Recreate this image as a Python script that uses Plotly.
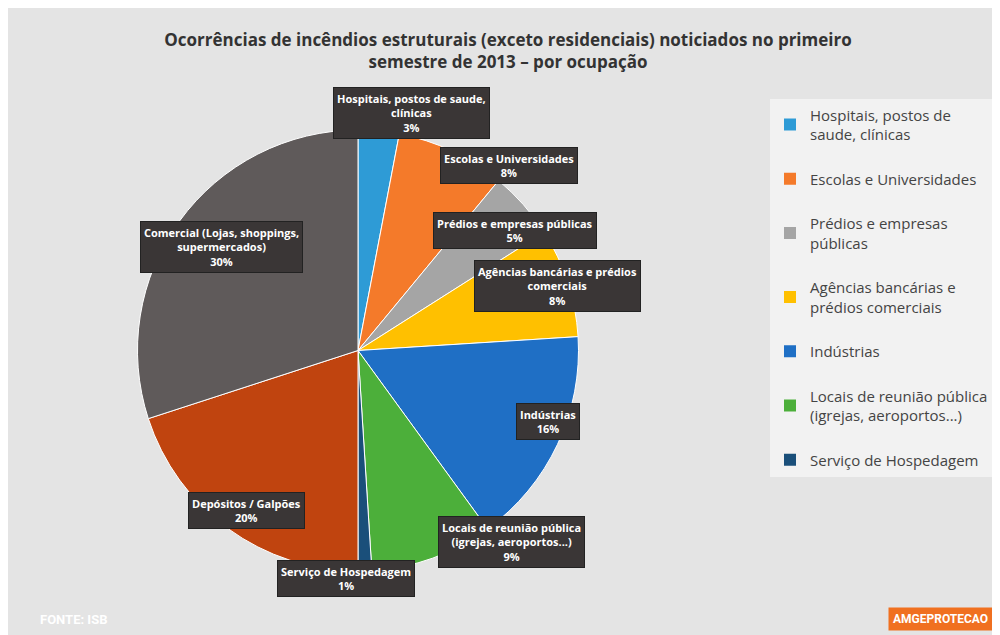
import numpy as np
import plotly.graph_objects as go

labels = ["Hospitais, postos de saude, clínicas", "Escolas e Universidades",
          "Prédios e empresas públicas", "Agências bancárias e prédios comerciais",
          "Indústrias", "Locais de reunião pública (igrejas, aeroportos...)",
          "Serviço de Hospedagem", "Depósitos / Galpões",
          "Comercial (Lojas, shoppings, supermercados)"]
box_text = ["Hospitais, postos de saude,<br>clínicas", "Escolas e Universidades",
            "Prédios e empresas públicas", "Agências bancárias e prédios<br>comerciais",
            "Indústrias", "Locais de reunião pública<br>(igrejas, aeroportos...)",
            "Serviço de Hospedagem", "Depósitos / Galpões",
            "Comercial (Lojas, shoppings,<br>supermercados)"]
legend_text = ["Hospitais, postos de<br>saude, clínicas", "Escolas e Universidades",
               "Prédios e empresas<br>públicas", "Agências bancárias e<br>prédios comerciais",
               "Indústrias", "Locais de reunião pública<br>(igrejas, aeroportos...)",
               "Serviço de Hospedagem"]
values = [3, 8, 5, 8, 16, 9, 1, 20, 30]
colors = ["#2e9bd6", "#f47a2a", "#a5a5a5", "#ffc000", "#1f6fc5",
          "#4caf3a", "#1a4f7a", "#c0440f", "#5f5a5a"]

# label placement: radius factor and horizontal nudge in pixels
label_k = [1.2, 1.02, 0.95, 0.95, 0.95, 1.05, 1.12, 1.0, 1.0]
label_dx = [-50, 55, 0, 0, 0, 75, -20, -40, -40]

W, H, T, B = 1000, 635, 80, 30
ph = H - T - B
cx, cy, R = 350, T + ph * 0.5, ph * 0.84 / 2

fig = go.Figure()
fig.add_trace(go.Pie(labels=labels, values=values, sort=False, direction="clockwise",
                     rotation=0, marker=dict(colors=colors, line=dict(color="#ffffff", width=1)),
                     textinfo="none", showlegend=False, hoverinfo="label+percent",
                     domain=dict(x=[0.1, 0.6], y=[0.08, 0.92])))

for i, (name, c) in enumerate(zip(legend_text, colors)):
    fig.add_trace(go.Scatter(x=[None], y=[None], mode="markers", name=name, legendgroup=str(i),
                             marker=dict(symbol="square", size=11, color=c)))

tot = sum(values)
cum = np.cumsum([0] + values[:-1])
for i, v in enumerate(values):
    th = 2 * np.pi * (cum[i] + v / 2) / tot
    px = cx + R * label_k[i] * np.sin(th) + label_dx[i]
    py = cy - R * label_k[i] * np.cos(th)
    fig.add_annotation(x=px / W, y=1 - (py - T) / ph, xref="paper", yref="paper",
                       text=f"<b>{box_text[i]}<br>{round(100 * v / tot)}%</b>",
                       showarrow=False, bgcolor="#3a3636", bordercolor="#222",
                       font=dict(color="white", size=11, family="Open Sans"), borderpad=3)

fig.add_annotation(x=0.03, y=-0.03, xref="paper", yref="paper", text="<b>FONTE: ISB</b>",
                   showarrow=False, font=dict(color="#ffffff", size=13, family="Roboto"))
fig.add_annotation(x=0.985, y=-0.035, xref="paper", yref="paper", text="<b>AMGEPROTECAO</b>",
                   xanchor="right", showarrow=False, bgcolor="#f07020",
                   font=dict(color="white", size=12, family="Roboto"), borderpad=4)

fig.update_layout(
    width=W, height=H, margin=dict(l=0, r=0, t=T, b=B),
    title=dict(text="<b>Ocorrências de incêndios estruturais (exceto residenciais) noticiados no primeiro<br>semestre de 2013 – por ocupação</b>",
               x=0.5, xanchor="center", y=0.94, yanchor="top",
               font=dict(size=17, color="#333", family="Open Sans")),
    paper_bgcolor="#e4e4e4", plot_bgcolor="rgba(0,0,0,0)",
    xaxis=dict(visible=False), yaxis=dict(visible=False),
    legend=dict(x=0.762, y=0.98, xanchor="left", yanchor="top", bgcolor="#f2f2f2",
                font=dict(size=15, color="#444", family="Open Sans"),
                tracegroupgap=22, itemsizing="constant"),
)
fig.write_html("out.html")
